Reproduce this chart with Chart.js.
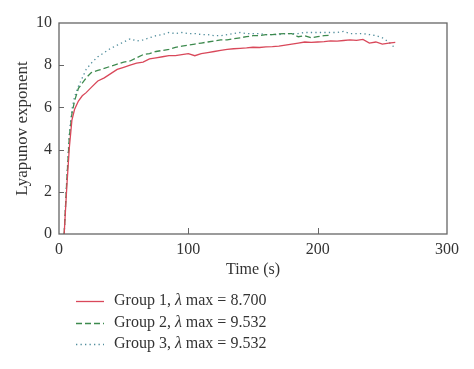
<!DOCTYPE html>
<html>
<head>
<meta charset="utf-8">
<script src="https://cdn.jsdelivr.net/npm/chart.js@4"></script>
<style>
  html, body { margin: 0; padding: 0; background: #fff; }
  #wrap { width: 474px; height: 369px; }
</style>
</head>
<body>
<div id="wrap"><canvas id="c" width="474" height="369"></canvas></div>
<script>
const times = [
    4, 6, 8, 10, 12, 15, 18, 21, 25, 30, 35, 40, 45, 50, 55, 60, 65, 70, 75,
    80, 85, 90, 95, 100, 105, 110, 115, 120, 125, 130, 135, 140, 145, 150,
    155, 160, 165, 170, 175, 180, 185, 190, 195, 200, 205, 210, 215, 220,
    225, 230, 235, 240, 245, 250, 255, 260
];

// Group 1 (solid red)
const group1 = [
    0, 2.2, 4.1, 5.4, 5.9, 6.3, 6.55, 6.7, 6.95, 7.25, 7.4, 7.6, 7.8, 7.9,
    8.0, 8.1, 8.15, 8.3, 8.35, 8.4, 8.45, 8.45, 8.5, 8.55, 8.45, 8.55, 8.6,
    8.65, 8.7, 8.75, 8.78, 8.8, 8.82, 8.85, 8.84, 8.87, 8.88, 8.9, 8.95, 9.0,
    9.05, 9.1, 9.08, 9.1, 9.12, 9.15, 9.14, 9.17, 9.2, 9.18, 9.22, 9.05, 9.1,
    9.0, 9.05, 9.08
];

// Group 2 (dashed green), stops near 210 s
const group2 = [
    0, 2.5, 4.6, 5.7, 6.3, 6.9, 7.15, 7.4, 7.65, 7.75, 7.85, 7.95, 8.05,
    8.15, 8.2, 8.35, 8.5, 8.55, 8.65, 8.7, 8.75, 8.85, 8.9, 8.95, 9.0, 9.05,
    9.1, 9.15, 9.2, 9.2, 9.25, 9.3, 9.35, 9.4, 9.4, 9.45, 9.45, 9.48, 9.5,
    9.5, 9.35, 9.4, 9.3, 9.35, 9.4, 9.42, null, null, null, null, null, null,
    null, null, null, null
];

// Group 3 (dotted)
const group3 = [
    0, 2.6, 4.8, 5.9, 6.5, 7.0, 7.4, 7.8, 8.1, 8.4, 8.6, 8.8, 8.95, 9.1,
    9.25, 9.15, 9.2, 9.3, 9.4, 9.45, 9.55, 9.5, 9.55, 9.5, 9.5, 9.45, 9.45,
    9.4, 9.4, 9.45, 9.5, 9.55, 9.5, 9.5, 9.5, 9.45, 9.45, 9.45, 9.5, 9.5,
    9.5, 9.55, 9.55, 9.55, 9.55, 9.55, 9.55, 9.6, 9.5, 9.5, 9.5, 9.45, 9.4,
    9.3, 9.1, 8.8
];

const groupNames = ["Group 1", "Group 2", "Group 3"];
const lambdaMax = ["8.700", "9.532", "9.532"];
const colors = ["#d9485a", "#3d8a4e", "#4f8d9c"];
const dashes = [[], [6, 3], [1.3, 3.2]];

const font = "'Liberation Serif', 'DejaVu Serif', serif";

const toPoints = (ys) => times.map((t, i) => ({ x: t, y: ys[i] }));

const datasets = [group1, group2, group3].map((ys, i) => {
    return {
        label: groupNames[i],
        data: toPoints(ys),
        borderColor: colors[i],
        backgroundColor: colors[i],
        borderWidth: 1.3,
        borderDash: dashes[i],
        pointRadius: 0,
        tension: 0,
        spanGaps: false
    };
});

// frame, inward ticks and the legend below the plot
const decorations = {
    id: "decorations",
    afterDraw(chart) {
        const ctx = chart.ctx;
        const a = chart.chartArea;
        const xs = chart.scales.x;
        const ys = chart.scales.y;
        ctx.save();
        ctx.strokeStyle = "#666";
        ctx.lineWidth = 1.3;
        ctx.strokeRect(a.left, a.top, a.right - a.left, a.bottom - a.top);
        ctx.lineWidth = 1;
        ctx.beginPath();
        xs.ticks.forEach((t) => {
            if (t.value <= 0 || t.value >= 300) return;
            const px = Math.round(xs.getPixelForValue(t.value)) + 0.5;
            ctx.moveTo(px, a.bottom);
            ctx.lineTo(px, a.bottom - 6);
        });
        ys.ticks.forEach((t) => {
            if (t.value <= 0 || t.value >= 10) return;
            const py = Math.round(ys.getPixelForValue(t.value)) + 0.5;
            ctx.moveTo(a.left, py);
            ctx.lineTo(a.left + 5, py);
        });
        ctx.stroke();

        // legend
        const rows = [301, 323, 344];
        ctx.textBaseline = "middle";
        ctx.fillStyle = "#333";
        chart.data.datasets.forEach((ds, i) => {
            const y = rows[i] + 0.5;
            ctx.strokeStyle = ds.borderColor;
            ctx.lineWidth = 1.3;
            ctx.setLineDash(ds.borderDash);
            ctx.beginPath();
            ctx.moveTo(76, y);
            ctx.lineTo(104, y);
            ctx.stroke();
            ctx.setLineDash([]);
            let x = 114;
            const parts = [
                [groupNames[i] + ", ", "normal"],
                ["λ", "italic"],
                [" max = " + lambdaMax[i], "normal"]
            ];
            parts.forEach(([txt, style]) => {
                ctx.font = style + " 16px " + font;
                ctx.fillText(txt, x, rows[i]);
                x += ctx.measureText(txt).width;
            });
        });
        ctx.restore();
    }
};

new Chart(document.getElementById("c"), {
    type: "line",
    data: { datasets },
    options: {
        responsive: false,
        animation: false,
        layout: { padding: { top: 23, right: 27, bottom: 90, left: 0 } },
        plugins: {
            legend: { display: false },
            tooltip: { enabled: false }
        },
        scales: {
            x: {
                type: "linear",
                min: 0,
                max: 300,
                ticks: {
                    stepSize: 100,
                    color: "#333",
                    font: { family: font, size: 16 },
                    padding: 0,
                    maxRotation: 0
                },
                grid: { display: false, tickLength: 6 },
                border: { display: false },
                title: {
                    display: true,
                    text: "Time (s)",
                    color: "#333",
                    font: { family: font, size: 16 },
                    padding: { top: 0, bottom: 0 }
                },
                afterFit(scale) { scale.height = 45; }
            },
            y: {
                min: 0,
                max: 10,
                ticks: {
                    stepSize: 2,
                    color: "#333",
                    font: { family: font, size: 16 },
                    padding: 7
                },
                grid: { display: false, drawTicks: false },
                border: { display: false },
                title: {
                    display: true,
                    text: "Lyapunov exponent",
                    color: "#333",
                    font: { family: font, size: 17 },
                    padding: { top: 12, bottom: 0 }
                },
                afterFit(scale) { scale.width = 59; }
            }
        }
    },
    plugins: [decorations]
});
</script>
</body>
</html>
